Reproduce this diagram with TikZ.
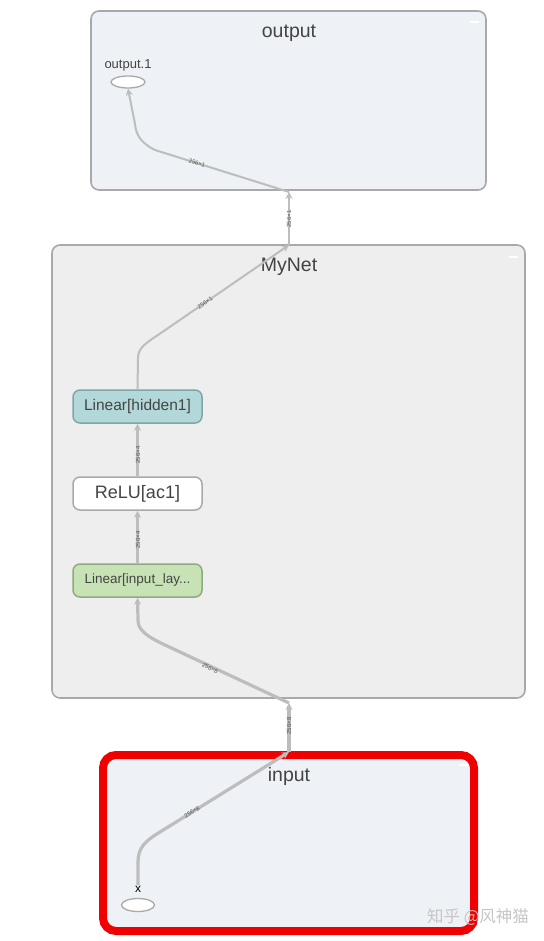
\documentclass[tikz,border=0pt]{standalone}
\usepackage{fontspec}
\setmainfont{Liberation Sans}
\newfontfamily\cjk{Noto Sans CJK SC}
\usetikzlibrary{arrows.meta,calc,shapes.geometric}
\definecolor{groupblue}{HTML}{EEF1F5}
\definecolor{groupgray}{HTML}{EEEEEE}
\definecolor{grpborder}{HTML}{A9A9A9}
\definecolor{edgec}{HTML}{BDBDBD}
\definecolor{hidfill}{HTML}{B3D8D9}
\definecolor{hidborder}{HTML}{7FA5A6}
\definecolor{inpfill}{HTML}{C7E2B5}
\definecolor{inpborder}{HTML}{8DAA80}
\definecolor{redb}{HTML}{F00000}
\definecolor{textc}{HTML}{444444}
\definecolor{lblc}{HTML}{555555}
\begin{document}
\begin{tikzpicture}[x=1pt,y=-1pt,
  group/.style={draw=grpborder,line width=1.6pt,rounded corners=8pt},
  gtitle/.style={text=textc,font=\fontsize{19.5}{19.5}\selectfont,inner sep=0pt},
  opnode/.style={draw,line width=1.5pt,rounded corners=7pt,minimum width=129pt,minimum height=33pt,inner sep=0pt,text=textc},
  ionode/.style={ellipse,draw=grpborder,line width=1.3pt,fill=white,inner sep=0pt},
  flow/.style={draw=edgec,line width=2pt,-{Stealth[length=7pt,width=7pt]}},
  flowmid/.style={flow,line width=2.6pt},
  flowthick/.style={flow,line width=3.2pt},
  elabel/.style={font=\fontsize{6}{6}\selectfont,text=lblc,inner sep=0.3pt},
  minus/.style={white,line width=1.6pt}]
\useasboundingbox[fill=white] (0,0) rectangle (543,941);

% groups
\draw[group,fill=groupblue] (91,11) rectangle (486,190);
\draw[minus] (470,22) -- (479,22);
\node[gtitle] (outTitle) at (289,33) {output};

\draw[group,fill=groupgray] (52,245) rectangle (525,698);
\draw[minus] (509,257) -- (518,257);
\node[gtitle] (netTitle) at (289,267) {MyNet};

\draw[draw=redb,line width=8pt,rounded corners=13pt,fill=groupblue] (103,755) rectangle (474,931);
\draw[minus] (459,765) -- (468,765);
\node[gtitle] (inTitle) at (289,776) {input};

% group border coordinates
\coordinate (outBot) at (289,192);
\coordinate (netTop) at (289,245);
\coordinate (netBot) at (289,703);
\coordinate (inTop) at (289,752);

% nodes
\node[font=\fontsize{13}{13}\selectfont,text=textc,inner sep=0pt] (out1lbl) at (128,65) {output.1};
\node[ionode,minimum width=34pt,minimum height=12pt] (out1) at (128,82) {};

\node[opnode,draw=hidborder,fill=hidfill,font=\fontsize{15.5}{15.5}\selectfont] (hid) at (137.5,406.5) {Linear[hidden1]};
\node[opnode,draw=grpborder,fill=white,font=\fontsize{18}{18}\selectfont] (relu) at (137.5,493.5) {ReLU[ac1]};
\node[opnode,draw=inpborder,fill=inpfill,font=\fontsize{13.5}{13.5}\selectfont] (ilay) at (137.5,580.5) {Linear[input\_lay...};

\node[font=\fontsize{12}{12}\selectfont,text=black,inner sep=0.5pt] (xlbl) at (138,889) {x};
\node[ionode,minimum width=33pt,minimum height=13pt] (x) at (138,905) {};

% edges
\draw[flowthick] (xlbl.north) -- (138,862) .. controls (138,848) and (145,841) .. (160,832) -- (inTop);
\draw[flowthick] (inTop) -- (netBot);
\draw[flowthick] (netBot) -- (165,645) .. controls (146,636) and (138,630) .. (138,620) -- (ilay.south);
\draw[flowmid] (ilay.north) -- (relu.south);
\draw[flowmid] (relu.north) -- (hid.south);
\draw[flow] (hid.north) -- (138,358) .. controls (138,348) and (146,343) .. (158,335) -- (netTop);
\draw[flow] (netTop) -- (outBot);
\draw[flow] (outBot) -- (155,150) .. controls (141,143) and (136,135) .. (135,124) -- (out1.south);

% edge labels
\node[elabel,rotate=32] (l1) at (192,812) {256×8};
\node[elabel,rotate=90] (l2) at (289,726) {256×8};
\node[elabel,rotate=-26] (l3) at (210,668) {256×8};
\node[elabel,rotate=90] (l4) at (138,540) {256×4};
\node[elabel,rotate=90] (l5) at (138,455) {256×4};
\node[elabel,rotate=35] (l6) at (205,303) {256×1};
\node[elabel,rotate=90] (l7) at (289,219) {256×1};
\node[elabel,rotate=-18] (l8) at (197,163) {256×1};

% watermark
\node[text=gray!45,font=\cjk\fontsize{16.5}{16.5}\selectfont,inner sep=0pt] (wm) at (478,917) {知乎 @风神猫};
\end{tikzpicture}
\end{document}
